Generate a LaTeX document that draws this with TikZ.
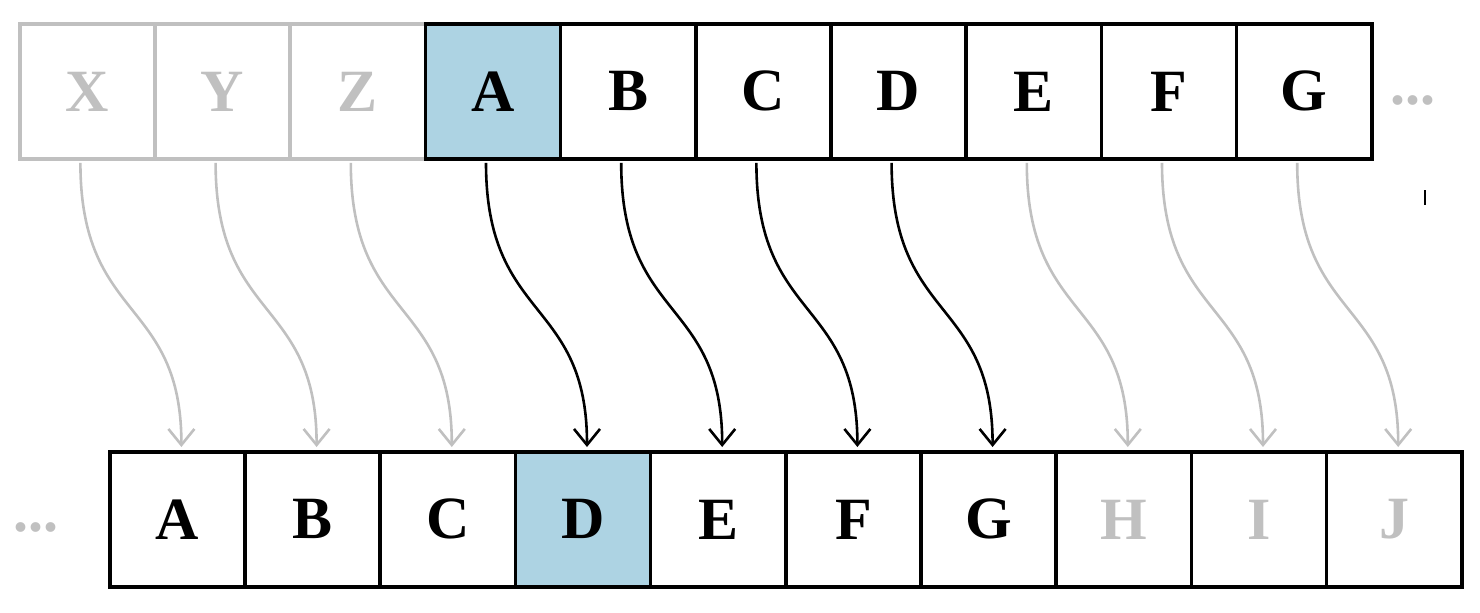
\documentclass[tikz,border=0pt]{standalone}
\usepackage{fontspec}
\setmainfont{Liberation Serif}
\usetikzlibrary{arrows.meta}
\definecolor{lg}{HTML}{C0C0C0}
\definecolor{lb}{HTML}{ADD3E3}
\begin{document}
\begin{tikzpicture}[x=0.5pt,y=-0.5pt,
  cell/.style={draw=black,line width=1.8pt,minimum width=67.6pt,minimum height=67.6pt,inner sep=0pt,font=\fontsize{30}{30}\selectfont\bfseries,anchor=north west},
  gcell/.style={cell,draw=lg,text=lg},
  arr/.style={line width=1.3pt,-{Straight Barb[length=8pt,width=13pt]}},
  garr/.style={arr,draw=lg}]
\useasboundingbox (0,0) rectangle (1480,612);
% top row
\foreach \t [count=\i from 0] in {X,Y,Z}{
  \node[gcell] (t\i) at ({18+135.2*\i},22) {\t};}
\foreach \t [count=\i from 3] in {A,B,C,D,E,F,G}{
  \node[cell] (t\i) at ({18+135.2*\i},22) {\t};}
\fill[lb] ([shift={(0.9pt,-0.9pt)}]t3.north west) rectangle ([shift={(-0.9pt,0.9pt)}]t3.south east);
\node[cell] at (t3.north west) {A};
% bottom row
\foreach \t [count=\i from 0] in {A,B,C,D,E,F,G}{
  \node[cell] (b\i) at ({108+135.2*\i},450) {\t};}
\foreach \t [count=\i from 7] in {H,I,J}{
  \node[cell,text=lg] (b\i) at ({108+135.2*\i},450) {\t};}
\fill[lb] ([shift={(0.9pt,-0.9pt)}]b3.north west) rectangle ([shift={(-0.9pt,0.9pt)}]b3.south east);
\node[cell] at (b3.north west) {D};
% dots
\node[text=lg,font=\fontsize{30}{30}\selectfont\bfseries] (dr) at (1413,100) {...};
\node[text=lg,font=\fontsize{30}{30}\selectfont\bfseries] (dl) at (36,527) {...};
\draw[line width=0.8pt] (1425,190) -- (1425,205);
% arrows
\foreach \i in {0,...,9}{
  \pgfmathsetmacro{\st}{ifthenelse(\i<3 || \i>6,1,0)}
  \coordinate (s\i) at ([xshift=-3.5pt,yshift=-1pt]t\i.south);
  \coordinate (e\i) at ([xshift=2pt,yshift=1.5pt]b\i.north);
  \ifnum\st=1
    \draw[garr] (s\i) .. controls ([yshift=-80pt]s\i) and ([yshift=75pt]e\i) .. (e\i);
  \else
    \draw[arr] (s\i) .. controls ([yshift=-80pt]s\i) and ([yshift=75pt]e\i) .. (e\i);
  \fi
}
\end{tikzpicture}
\end{document}
